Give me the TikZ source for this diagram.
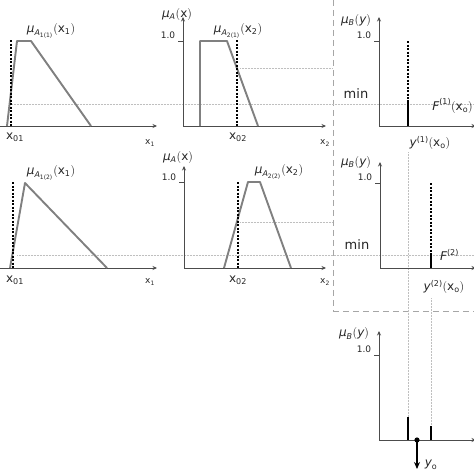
\documentclass[tikz,border=0pt]{standalone}
\usepackage{fontspec}
\usepackage{amsmath}
\setmainfont{DejaVu Sans}
\usetikzlibrary{arrows.meta}
\newcommand{\tmu}{\text{\itshape μ}}
\newcommand{\tA}[2]{\text{\itshape A}_{\text{#1}\text{(#2)}}}
\newcommand{\tx}[1]{\text{x}_{\text{#1}}}
\begin{document}
\begin{tikzpicture}[x=1pt,y=-1pt,
  mf/.style={draw=black!50, line width=1.9pt, line join=round},
  ax/.style={draw=black!70, line width=0.7pt, -{Stealth[length=4.5pt,width=4pt]}},
  guide/.style={draw=black!25, line width=0.5pt, densely dotted},
  cutline/.style={draw=black, line width=1.7pt, dash pattern=on 2pt off 1.5pt},
  spike/.style={draw=black, line width=1.7pt},
  sep/.style={draw=black!35, line width=0.9pt, dash pattern=on 6pt off 4pt},
  lab/.style={font=\fontsize{12}{14}\selectfont, inner sep=0pt, text=black!85},
  small/.style={font=\fontsize{9}{11}\selectfont, inner sep=0pt, text=black!85},
  tick/.style={draw=black!70, line width=0.6pt}]
\useasboundingbox (0,0) rectangle (474,474);

% separators
\draw[sep] (333,0) -- (333,311);
\draw[sep] (333,311) -- (474,311);

% guide lines
\draw[guide] (12,104) -- (474,104);
\draw[guide] (240,68) -- (333,68);
\draw[guide] (17,255) -- (474,255);
\draw[guide] (240,222) -- (333,222);
\draw[guide] (408,152) -- (408,417);
\draw[guide] (431,298) -- (431,426);

% ===== Panel 1 =====
\draw[ax] (0,126) -- (157,126);
\draw[mf] (7,126) -- (17,41) -- (31,41) -- (91,126);
\draw[cutline] (11,40) -- (11,126);
\node[lab] (l1) at (51,31) {$\tmu_{\tA{1}{1}}(\tx{1})$};
\node[lab] (x01a) at (15,137) {$\tx{01}$};
\node[small] (x1a) at (150,143) {$\tx{1}$};

% ===== Panel 2 =====
\draw[ax] (183,126) -- (183,17);
\draw[ax] (183,126) -- (326,126);
\draw[tick] (178,41) -- (183,41);
\node[small] (one2) at (168,35) {1.0};
\node[lab] (m2) at (177,14) {$\tmu_{\text{\itshape A}}(\text{x})$};
\draw[mf] (200,126) -- (200,41) -- (227,41) -- (258,126);
\draw[cutline] (237,40) -- (237,126);
\node[lab] (l2) at (238,31) {$\tmu_{\tA{2}{1}}(\tx{2})$};
\node[lab] (x02a) at (238,137) {$\tx{02}$};
\node[small] (x2a) at (325,143) {$\tx{2}$};

% ===== Panel 3 =====
\draw[ax] (379,126) -- (379,17);
\draw[ax] (379,126) -- (476,126);
\draw[tick] (374,41) -- (379,41);
\node[small] (one3) at (364,35) {1.0};
\node[lab] (m3) at (356,20) {$\tmu_{\text{\itshape B}}(\text{\itshape y})$};
\draw[cutline] (408,41) -- (408,100);
\draw[spike] (408,100) -- (408,126);
\node[lab, font=\fontsize{13}{15}\selectfont] (min1) at (356,94) {min};
\node[lab, anchor=east] (F1) at (473,106) {$\text{\itshape F}^{\text{(1)}}(\text{x}_{\text{o}})$};
\node[lab] (y1) at (430,143) {$\text{\itshape y}^{\text{(1)}}(\text{x}_{\text{o}})$};

% ===== Panel 4 =====
\draw[ax] (0,268) -- (157,268);
\draw[mf] (10,268) -- (25,183) -- (107,268);
\draw[cutline] (13,182) -- (13,268);
\node[lab] (l4) at (51,173) {$\tmu_{\tA{1}{2}}(\tx{1})$};
\node[lab] (x01b) at (15,280) {$\tx{01}$};
\node[small] (x1b) at (150,282) {$\tx{1}$};

% ===== Panel 5 =====
\draw[ax] (184,268) -- (184,166);
\draw[ax] (184,268) -- (326,268);
\draw[tick] (179,182) -- (184,182);
\node[small] (one5) at (169,177) {1.0};
\node[lab] (m5) at (178,157) {$\tmu_{\text{\itshape A}}(\text{x})$};
\draw[mf] (224,268) -- (248,182) -- (260,182) -- (291,268);
\draw[cutline] (238,182) -- (238,268);
\node[lab] (l5) at (279,172) {$\tmu_{\tA{2}{2}}(\tx{2})$};
\node[lab] (x02b) at (238,280) {$\tx{02}$};
\node[small] (x2b) at (325,282) {$\tx{2}$};

% ===== Panel 6 =====
\draw[ax] (380,268) -- (380,162);
\draw[ax] (380,268) -- (476,268);
\draw[tick] (375,183) -- (380,183);
\node[small] (one6) at (365,177) {1.0};
\node[lab] (m6) at (356,162) {$\tmu_{\text{\itshape B}}(\text{\itshape y})$};
\draw[cutline] (431,183) -- (431,255);
\draw[spike] (431,255) -- (431,268);
\node[lab, font=\fontsize{13}{15}\selectfont] (min2) at (357,245) {min};
\node[lab, anchor=west] (F2) at (440,255) {$\text{\itshape F}^{\text{(2)}}$};
\node[lab] (y2) at (444,287) {$\text{\itshape y}^{\text{(2)}}(\text{x}_{\text{o}})$};

% ===== Panel 7 =====
\draw[ax] (379,440) -- (379,331);
\draw[ax] (379,440) -- (476,440);
\draw[tick] (374,355) -- (379,355);
\node[small] (one7) at (364,349) {1.0};
\node[lab] (m7) at (354,333) {$\tmu_{\text{\itshape B}}(\text{\itshape y})$};
\draw[spike] (408,417) -- (408,440);
\draw[spike] (431,426) -- (431,440);
\coordinate (yo) at (417,440);
\coordinate (yoend) at (417,469);
\draw[black, line width=1.4pt, -{Stealth[length=7pt,width=6pt]}] (yo) -- (yoend);
\fill[black] (yo) circle (2.6pt);
\node[lab] (ylab) at (431,465) {$\text{\itshape y}_{\text{o}}$};
\end{tikzpicture}
\end{document}
